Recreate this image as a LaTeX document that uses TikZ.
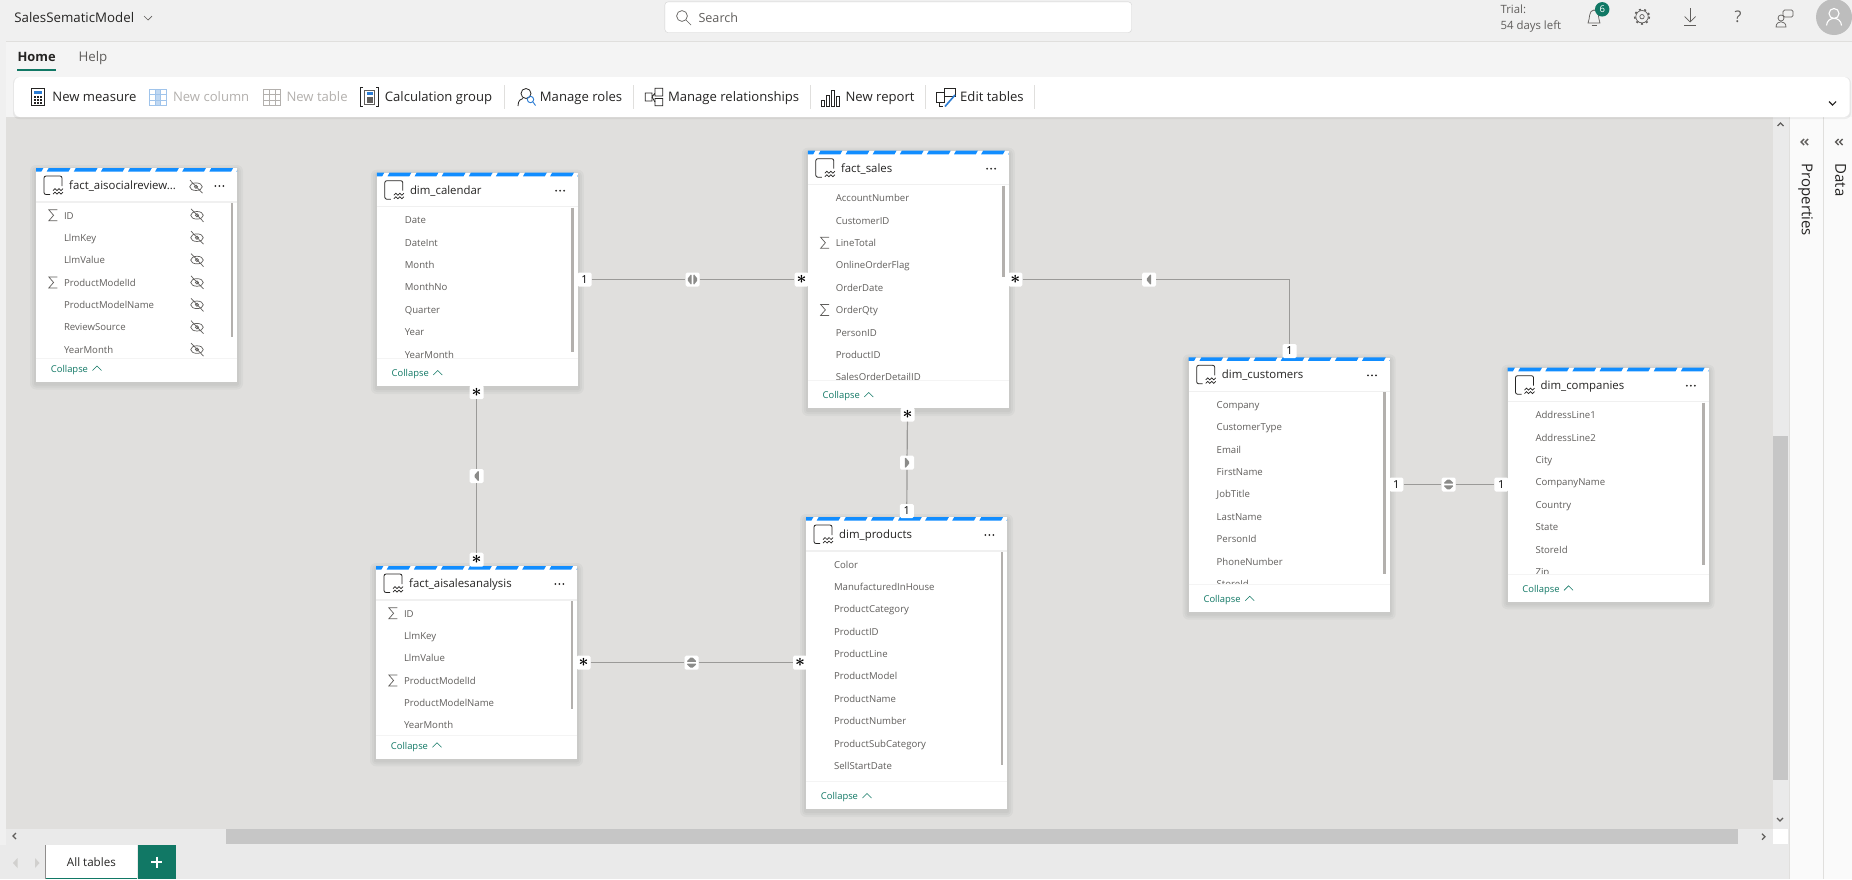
\documentclass[tikz,border=0pt]{standalone}
\usepackage{fontspec}
\setmainfont{Open Sans}
\definecolor{canvasbg}{HTML}{E0DFDD}
\definecolor{chromebg}{HTML}{F0F0F0}
\definecolor{tabbg}{HTML}{F4F4F4}
\definecolor{trackbg}{HTML}{EAEAEA}
\definecolor{thumbbg}{HTML}{C6C6C6}
\definecolor{panelbg}{HTML}{FAFAFA}
\definecolor{teal}{HTML}{117865}
\definecolor{stripe}{HTML}{118DFF}
\definecolor{inktext}{HTML}{252423}
\definecolor{fieldink}{HTML}{605E5C}
\definecolor{faintink}{HTML}{B3B0AD}
\definecolor{relgray}{HTML}{9B9A98}
\definecolor{iconblue}{HTML}{2B7CD3}
\newcommand{\manymark}{{\fontsize{18}{18}\selectfont\boldmath$\ast$}}
\tikzset{
  fieldtext/.style={anchor=west, inner sep=0pt, text=fieldink, text height=10pt, text depth=2.5pt, font=\fontsize{9.6}{12}\selectfont},
  titletext/.style={anchor=west, inner sep=0pt, text=inktext, text height=11pt, text depth=3pt, font=\fontsize{11.4}{13}\selectfont},
  collapsetext/.style={anchor=west, inner sep=0pt, text=teal, text height=10pt, text depth=2.5pt, font=\fontsize{9.4}{12}\selectfont},
  ribbontext/.style={anchor=west, inner sep=0pt, text=inktext, text height=11.5pt, text depth=3pt, font=\fontsize{13.1}{14}\selectfont},
  ribbonoff/.style={ribbontext, text=faintink},
  chrometext/.style={anchor=west, inner sep=0pt, text=inktext, text height=12pt, text depth=3pt, font=\fontsize{13.3}{14}\selectfont},
  sidetext/.style={rotate=-90, anchor=west, inner sep=0pt, text=inktext, text height=9.5pt, text depth=3pt, font=\fontsize{15}{16}\selectfont},
  relbox/.style={fill=white, inner sep=0pt, rounded corners=1.5pt, minimum width=14pt, minimum height=14pt, text=black, font=\fontsize{11}{11}\selectfont},
  relline/.style={draw=relgray, line width=1.2pt},
  towardleft/.style={relbox, path picture={\fill[relgray!90!black, shift={(path picture bounding box.center)}] (2.2, -6) -- (2.2, 6) -- (-3, 0) -- cycle;}},
  towardright/.style={relbox, path picture={\fill[relgray!90!black, shift={(path picture bounding box.center)}] (-2.2, -6) -- (-2.2, 6) -- (3, 0) -- cycle;}},
  towardboth/.style={relbox, path picture={\fill[relgray!90!black, shift={(path picture bounding box.center)}] (-.8, -6) -- (-.8, 6) -- (-5.6, 0) -- cycle (.8, -6) -- (.8, 6) -- (5.6, 0) -- cycle;}},
  towardupdown/.style={relbox, path picture={\fill[relgray!90!black, shift={(path picture bounding box.center)}] (-5.6, -.8) -- (5.6, -.8) -- (0, -6) -- cycle (-5.6, .8) -- (5.6, .8) -- (0, 6) -- cycle;}},
  glyphline/.style={draw=inktext, line width=.8pt},
  softline/.style={draw=fieldink, line width=.7pt},
  sourcemark/.pic={
    \draw[glyphline, rounded corners=2pt] (6, 18.5) -- (0, 18.5) -- (0, 0) -- (18, 0) -- (18, 10);
    \draw[glyphline, line width=.7pt] (9, 14.5) -- (11, 12.5) -- (13, 14.5) -- (15, 12.5) -- (17, 14.5) -- (19, 12.5);
    \draw[glyphline, line width=.7pt] (9, 18) -- (11, 16) -- (13, 18) -- (15, 16) -- (17, 18) -- (19, 16);
  },
  summark/.pic={\draw[draw=fieldink, line width=.7pt] (4.5, -5.5) -- (-4, -5.5) -- (.8, 0) -- (-4, 5.5) -- (4.5, 5.5);},
  hiddenmark/.pic={
    \draw[softline] (0, 0) ellipse (6.3 and 3.8);
    \draw[softline] (0, 0) circle (1.6);
    \draw[softline] (-6, -6.5) -- (6.5, 6.5);
  },
  moremark/.pic={\foreach \mx in {-4, 0, 4} {\fill[inktext] (\mx, 0) circle (1);}},
}
\newcommand{\tablecard}[8]{%
  \pgfmathsetmacro{\cardright}{#2+201}
  \pgfmathsetmacro{\cardhigh}{#4-#3}
  \foreach \spread in {6, 4, 2} {
    \fill[black, opacity=.03, rounded corners=\spread] (#2-\spread, #3-\spread+3) rectangle (\cardright+\spread, #4+\spread+2);
  }
  \path (#2, #3) node[fill=white, anchor=north west, inner sep=0pt, minimum width=201pt, minimum height=\cardhigh pt] (#1) {};
  \begin{scope}
    \clip (#2, #3) rectangle (\cardright, #3+3.6);
    \foreach \dashno in {-1, ..., 7} {
      \fill[stripe] (#2+10.7+27.1*\dashno, #3+3.6) -- ++(21.8, 0) -- ++(2, -3.6) -- ++(-21.8, 0) -- cycle;
    }
  \end{scope}
  \path (#2, #3+17.5) node[titletext, xshift=33pt] (#1title) {#7};
  \path (#2+8, #3+8) pic {sourcemark};
  \path (\cardright-17.7, #3+18) pic {moremark};
  \draw[draw=chromebg, line width=1.2pt] (#2, #3+34) -- (\cardright, #3+34);
  \begin{scope}
    \clip (#2, #3+35) rectangle (\cardright, #5);
    \foreach \fieldname/\fieldsum [count=\fieldrow from 0] in {#8} {
      \pgfmathsetmacro{\fieldy}{#3+47.3+22.38*\fieldrow}
      \path (#2+27.8, \fieldy) node[fieldtext] (#1field\fieldrow) {\fieldname};
      \ifnum\fieldsum=1 \path (#2+16.8, \fieldy) pic {summark}; \fi
    }
  \end{scope}
  \draw[draw=tabbg, line width=.6pt] (#2, #5) -- (\cardright, #5);
  \draw[draw=faintink, line width=2.8pt, rounded corners=1pt] (\cardright-5, #3+35) -- (\cardright-5, #6);
  \path (#2+14.7, #4-13) node[collapsetext] (#1collapse) {Collapse};
  \draw[draw=teal, line width=.6pt] (#2+56.5, #4-11) -- (#2+61, #4-15.5) -- (#2+65.5, #4-11);
}
\begin{document}
\begin{tikzpicture}[x=1pt, y=-1pt]
\useasboundingbox (0, 0) rectangle (1852, 879);
\fill[chromebg] (0, 0) rectangle (1852, 879);
\fill[tabbg] (6, 41) rectangle (1852, 117);
\draw[draw=canvasbg, line width=.6pt] (6, 41) -- (1852, 41);
\fill[canvasbg] (6, 117) rectangle (1773, 829.3);
\fill[trackbg] (1773, 117) rectangle (1789, 829.3);
\fill[thumbbg] (1773, 436) rectangle (1788, 780);
\fill[panelbg] (1789, 117) rectangle (1852, 879);
\draw[draw=canvasbg, line width=.8pt] (1789, 117) -- (1789, 879);
\draw[draw=canvasbg, line width=.8pt] (1823.3, 117) -- (1823.3, 879);
\fill[trackbg] (6, 829.3) rectangle (1788.5, 879);
\fill[trackbg] (0, 845) rectangle (1788.5, 879);
\fill[thumbbg] (226, 829.3) rectangle (1738, 844);
\fill[white] (1773, 829.3) rectangle (1788, 844);
\fill[black, opacity=.05, rounded corners=6pt] (13, 77) rectangle (1851, 119);
\fill[white, rounded corners=6pt] (14.2, 77) rectangle (1849.7, 117);

\path (14.2, 17.5) node[chrometext] (modelname) {SalesSematicModel};
\draw[softline] (144, 16) -- (148, 20) -- (152, 16);
\path (664.7, 1.7) node[fill=white, draw=black!18, rounded corners=3pt, anchor=north west, inner sep=0pt, minimum width=466.6pt, minimum height=30.6pt] (searchbox) {};
\draw[softline] (682, 16) circle (5.4);
\draw[softline] (686, 20) -- (691, 25);
\path (698.3, 17.5) node[chrometext, text=fieldink, font=\fontsize{12.6}{14}\selectfont] (searchtext) {Search};
\path (1500.3, 10) node[fieldtext, font=\fontsize{11.4}{12}\selectfont] (trialtext) {Trial:};
\path (1500.3, 26) node[fieldtext, font=\fontsize{11.4}{12}\selectfont] (daysleft) {54 days left};

\draw[softline] (1588, 23) .. controls (1590, 19) and (1588.5, 10) .. (1594, 10) .. controls (1599.5, 10) and (1598, 19) .. (1600, 23) -- cycle;
\draw[softline] (1591.5, 25) -- (1596.5, 25);
\path (1602.2, 9.3) node[circle, fill=teal, text=white, inner sep=0pt, minimum size=14.5pt, font=\fontsize{9.5}{10}\selectfont] (bellcount) {6};
\draw[softline] (1642, 16.7) circle (6.2);
\draw[softline] (1642, 16.7) circle (2.2);
\draw[draw=fieldink, line width=1.6pt, dash pattern=on 2pt off 3.2pt] (1642, 16.7) circle (7.3);
\draw[softline] (1690, 8) -- (1690, 22);
\draw[softline] (1684.5, 16.5) -- (1690, 22) -- (1695.5, 16.5);
\draw[softline] (1684, 25) -- (1696, 25);
\path (1738, 17) node[text=fieldink, inner sep=0pt, font=\fontsize{16}{16}\selectfont] (helpmark) {?};
\draw[softline, rounded corners=1.5pt] (1783, 10) rectangle (1793, 17);
\draw[softline] (1781, 18) circle (3);
\draw[softline] (1776, 27) .. controls (1776, 20) and (1786, 20) .. (1786, 27) -- cycle;
\fill[black!26] (1834, 17) circle (18);
\draw[draw=white, line width=1.1pt] (1834, 13.5) circle (5);
\draw[draw=white, line width=1.1pt] (1826.5, 25.5) .. controls (1827, 16) and (1841, 16) .. (1841.5, 25.5);

\path (17.4, 57.3) node[chrometext, font=\fontsize{12.9}{14}\selectfont\bfseries] (hometab) {Home};
\path (78.3, 57.3) node[chrometext, text=fieldink] (helptab) {Help};
\draw[draw=teal, line width=1.6pt] (17.4, 70) -- (55.8, 70);

\draw[glyphline] (31, 88.5) rectangle (44.5, 105.5);
\fill[iconblue] (33.5, 91) rectangle (42, 94);
\foreach \keyx in {34.7, 37.8, 40.9} {\foreach \keyy in {97, 100, 103} {\fill[inktext] (\keyx-1, \keyy-1) rectangle (\keyx+1, \keyy+1);}}
\path (52.2, 97.3) node[ribbontext] (newmeasure) {New measure};
\fill[iconblue!30] (155, 89) rectangle (160.5, 105.5);
\draw[draw=iconblue!45, line width=.7pt] (149, 89) rectangle (166.5, 105.5) (149, 94.5) -- (166.5, 94.5) (149, 100) -- (166.5, 100) (155, 89) -- (155, 105.5) (160.5, 89) -- (160.5, 105.5);
\path (172.8, 97.3) node[ribbonoff] (newcolumn) {New column};
\draw[draw=faintink, line width=.7pt] (263.3, 89) rectangle (280.7, 105.5) (263.3, 94.5) -- (280.7, 94.5) (263.3, 100) -- (280.7, 100) (269, 89) -- (269, 105.5) (275, 89) -- (275, 105.5);
\path (286.3, 97.3) node[ribbonoff] (newtable) {New table};
\draw[glyphline] (363, 87.5) -- (360.3, 87.5) -- (360.3, 106.5) -- (363, 106.5) (376, 87.5) -- (378.7, 87.5) -- (378.7, 106.5) -- (376, 106.5);
\draw[softline] (364.5, 90) rectangle (374.5, 104);
\fill[iconblue] (366.5, 92) rectangle (372.5, 95);
\fill[fieldink] (366.5, 97) rectangle (372.5, 102.5);
\path (384.7, 97.3) node[ribbontext] (calcgroup) {Calculation group};
\draw[draw=canvasbg, line width=.8pt] (504.5, 85) -- (504.5, 109);
\draw[glyphline] (526, 93.5) circle (5);
\draw[glyphline] (518, 106) .. controls (518, 100) and (521, 99) .. (523, 98.5);
\draw[draw=iconblue, line width=.9pt] (530.5, 99.5) circle (3.2) (533, 102) -- (535.5, 105.5);
\path (539.7, 97.3) node[ribbontext] (manageroles) {Manage roles};
\draw[draw=canvasbg, line width=.8pt] (633.4, 85) -- (633.4, 109);
\draw[glyphline] (645.3, 93) rectangle (652, 101) (655, 88.3) rectangle (662.7, 96) (655, 98.5) rectangle (662.7, 105.7) (652, 97) -- (655, 93);
\draw[glyphline] (652, 97) -- (655, 102);
\path (667.8, 97.3) node[ribbontext] (managerels) {Manage relationships};
\draw[draw=canvasbg, line width=.8pt] (810.6, 85) -- (810.6, 109);
\draw[glyphline] (821, 100) rectangle (824, 106.5) (826, 95) rectangle (829, 106.5) (831, 90.5) rectangle (834, 106.5) (836.5, 96) rectangle (839.5, 106.5);
\path (845.4, 97.3) node[ribbontext] (newreport) {New report};
\draw[draw=canvasbg, line width=.8pt] (925.3, 85) -- (925.3, 109);
\draw[glyphline] (936.5, 92) rectangle (944, 102) (944, 88) rectangle (955.5, 96) (939, 102) -- (939, 106.5) -- (943, 106.5);
\draw[draw=iconblue, line width=1.6pt] (945, 106.5) -- (955, 95);
\path (960, 97.3) node[ribbontext] (edittables) {Edit tables};
\draw[draw=canvasbg, line width=.8pt] (1034.4, 85) -- (1034.4, 109);
\draw[draw=inktext, line width=1.1pt] (1829, 101.5) -- (1832.5, 105) -- (1836, 101.5);

\draw[draw=fieldink, line width=1.3pt] (1777.5, 126) -- (1780.5, 123) -- (1783.5, 126);
\draw[draw=fieldink, line width=1.3pt] (1777, 818) -- (1780, 821) -- (1783, 818);
\foreach \foldx in {1804, 1808, 1838.5, 1842.5} {
  \draw[draw=fieldink, line width=1.4pt] (\foldx, 139) -- (\foldx-3, 142) -- (\foldx, 145);
}
\path (1805, 163.3) node[sidetext] (propertiestab) {Properties};
\path (1838.5, 163.3) node[sidetext] (datatab) {Data};
\draw[draw=fieldink, line width=1.3pt] (16, 833) -- (13, 836) -- (16, 839);
\draw[draw=fieldink, line width=1.3pt] (1762, 833.7) -- (1765, 836.7) -- (1762, 839.7);
\fill[faintink!60] (17.5, 858) -- (17.5, 868) -- (13, 863) -- cycle;
\fill[faintink!60] (35, 858) -- (35, 868) -- (39.5, 863) -- cycle;
\path (45.7, 845) node[fill=white, anchor=north west, inner sep=0pt, minimum width=91pt, minimum height=34pt, text=inktext, font=\fontsize{11.6}{13}\selectfont] (alltables) {All tables};
\draw[draw=fieldink!70, line width=.6pt] (45.7, 845) -- (45.7, 879);
\draw[draw=teal, line width=1.2pt] (45.7, 878.4) -- (136.7, 878.4);
\path (137.3, 845) node[fill=teal, anchor=north west, inner sep=0pt, minimum width=38.7pt, minimum height=34pt] (addpage) {};
\draw[draw=white, line width=2pt] (addpage.center) ++(-5.5, 0) -- ++(11, 0) (addpage.center) ++(0, -5.5) -- ++(0, 11);

\tablecard{socialcard}{36}{168}{381.5}{358}{337}{fact\_aisocialreview...}{ID/1, LlmKey/0, LlmValue/0, ProductModelId/1, ProductModelName/0, ReviewSource/0, YearMonth/0}
\foreach \eyerow in {0, ..., 6} {
  \path (197, 215.3+22.38*\eyerow) pic {hiddenmark};
}
\path (196, 186.7) pic {hiddenmark};
\tablecard{calendarcard}{376.8}{172.7}{386}{358.3}{351.7}{dim\_calendar}{Date/0, DateInt/0, Month/0, MonthNo/0, Quarter/0, Year/0, YearMonth/0}
\tablecard{salescard}{807.8}{150.7}{408}{380.7}{277.3}{fact\_sales}{AccountNumber/0, CustomerID/0, LineTotal/1, OnlineOrderFlag/0, OrderDate/0, OrderQty/1, PersonID/0, ProductID/0, SalesOrderDetailID/0}
\tablecard{analysiscard}{376}{566}{758.3}{735}{708.7}{fact\_aisalesanalysis}{ID/1, LlmKey/0, LlmValue/0, ProductModelId/1, ProductModelName/0, YearMonth/0}
\tablecard{productscard}{806}{517}{809}{781.7}{765}{dim\_products}{Color/0, ManufacturedInHouse/0, ProductCategory/0, ProductID/0, ProductLine/0, ProductModel/0, ProductName/0, ProductNumber/0, ProductSubCategory/0, SellStartDate/0}
\tablecard{customerscard}{1188.7}{357.3}{611.7}{584.3}{574.3}{dim\_customers}{Company/0, CustomerType/0, Email/0, FirstName/0, JobTitle/0, LastName/0, PersonId/0, PhoneNumber/0, StoreId/0}
\tablecard{companiescard}{1507.5}{367.7}{601.3}{574}{565}{dim\_companies}{AddressLine1/0, AddressLine2/0, City/0, CompanyName/0, Country/0, State/0, StoreId/0, Zip/0}

\path (584.5, 279.5) node[relbox] (calendarone) {1};
\path (692.5, 279.5) node[towardboth] (calendarsalesdir) {};
\path (801.5, 279.5) node[relbox] (salesstarleft) {\manymark};
\path (1015.4, 279.5) node[relbox] (salesstarright) {\manymark};
\path (1149, 279.5) node[towardleft] (salescustomersdir) {};
\path (1289.5, 351) node[relbox] (customersone) {1};
\path (476.7, 392.2) node[relbox] (calendarstar) {\manymark};
\path (476.7, 476) node[towardleft] (calendaranalysisdir) {};
\path (476.7, 559.7) node[relbox] (analysisstartop) {\manymark};
\path (907.5, 414.5) node[relbox] (salesstarbottom) {\manymark};
\path (907, 462.7) node[towardright] (salesproductsdir) {};
\path (906.8, 511) node[relbox] (productsone) {1};
\path (583.5, 662.7) node[relbox] (analysisstarright) {\manymark};
\path (691.6, 662.7) node[towardupdown] (analysisproductsdir) {};
\path (800, 662.7) node[relbox] (productsstar) {\manymark};
\path (1396.3, 484.5) node[relbox] (customersoneright) {1};
\path (1448.6, 484.5) node[towardupdown] (customerscompaniesdir) {};
\path (1501.3, 484.5) node[relbox] (companiesone) {1};
\draw[relline] (calendarone) -- (calendarsalesdir);
\draw[relline] (calendarsalesdir) -- (salesstarleft);
\draw[relline] (salesstarright) -- (salescustomersdir);
\draw[relline] (salescustomersdir) -| (customersone);
\draw[relline] (calendarstar) -- (calendaranalysisdir);
\draw[relline] (calendaranalysisdir) -- (analysisstartop);
\draw[relline] (salesstarbottom) -- (salesproductsdir);
\draw[relline] (salesproductsdir) -- (productsone);
\draw[relline] (analysisstarright) -- (analysisproductsdir);
\draw[relline] (analysisproductsdir) -- (productsstar);
\draw[relline] (customersoneright) -- (customerscompaniesdir);
\draw[relline] (customerscompaniesdir) -- (companiesone);
\end{tikzpicture}
\end{document}
